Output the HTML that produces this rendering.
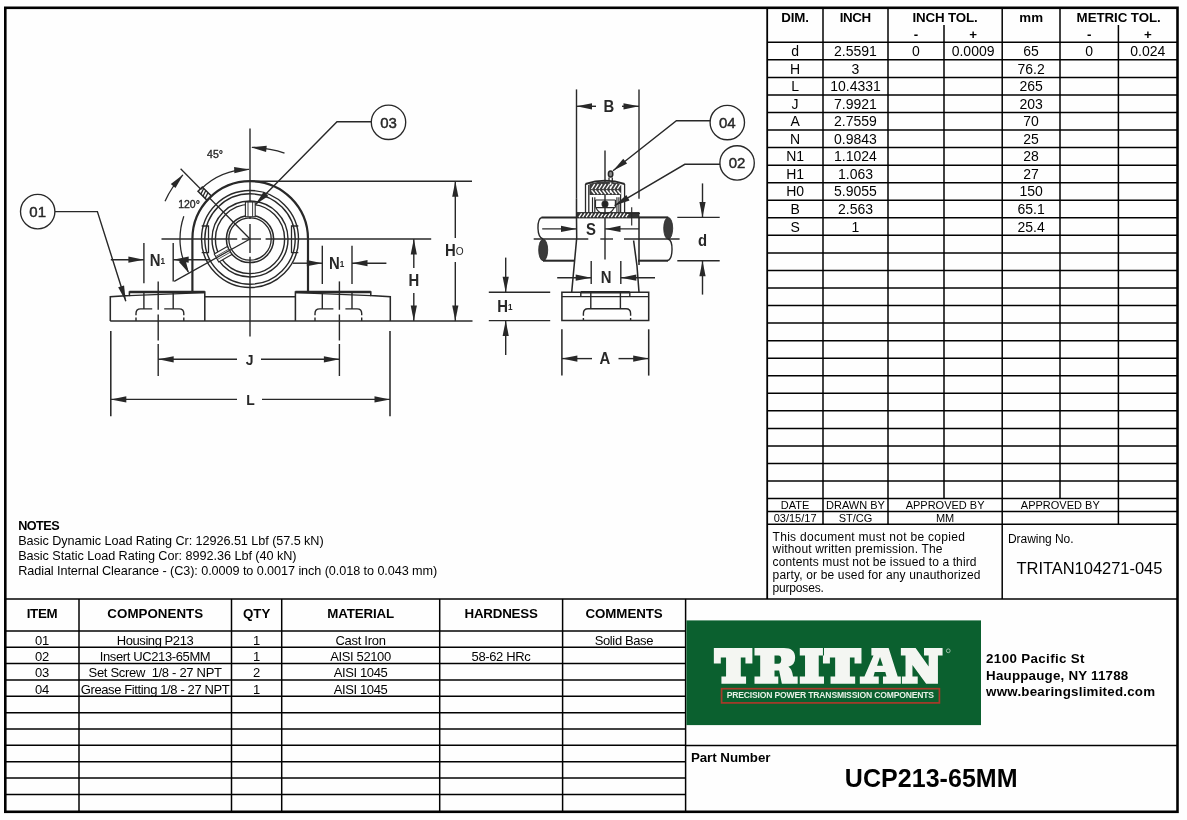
<!DOCTYPE html>
<html><head><meta charset="utf-8"><title>UCP213-65MM</title>
<style>
html,body{margin:0;padding:0;background:#fff;}
#pg{position:relative;width:1187px;height:820px;overflow:hidden;background:#fefefe;font-family:"Liberation Sans",sans-serif;}
#pg svg{position:absolute;left:0;top:0;opacity:0.999;will-change:opacity;}
#pg svg text{font-family:"Liberation Sans",sans-serif;}
.t{position:absolute;white-space:pre;line-height:1;margin:0;padding:0;}
#tx{position:absolute;left:0;top:0;width:1187px;height:820px;opacity:0.999;will-change:opacity;}
</style></head><body>
<div id="pg">
<svg width="1187" height="820" viewBox="0 0 1187 820" stroke-linecap="butt">
<rect x="5.30" y="7.80" width="1172.20" height="804.00" stroke="#000" stroke-width="2.6" fill="none"/>
<line x1="767.20" y1="7.80" x2="767.20" y2="598.90" stroke="#000" stroke-width="1.8" />
<line x1="823.00" y1="7.80" x2="823.00" y2="524.30" stroke="#000" stroke-width="1.5" />
<line x1="888.00" y1="7.80" x2="888.00" y2="524.30" stroke="#000" stroke-width="1.5" />
<line x1="944.00" y1="25.00" x2="944.00" y2="498.60" stroke="#000" stroke-width="1.5" />
<line x1="1002.20" y1="7.80" x2="1002.20" y2="598.90" stroke="#000" stroke-width="1.5" />
<line x1="1060.00" y1="7.80" x2="1060.00" y2="498.60" stroke="#000" stroke-width="1.5" />
<line x1="1118.40" y1="25.00" x2="1118.40" y2="524.30" stroke="#000" stroke-width="1.5" />
<line x1="767.20" y1="42.30" x2="1177.30" y2="42.30" stroke="#000" stroke-width="1.5" />
<line x1="767.20" y1="59.85" x2="1177.30" y2="59.85" stroke="#000" stroke-width="1.5" />
<line x1="767.20" y1="77.40" x2="1177.30" y2="77.40" stroke="#000" stroke-width="1.5" />
<line x1="767.20" y1="94.95" x2="1177.30" y2="94.95" stroke="#000" stroke-width="1.5" />
<line x1="767.20" y1="112.50" x2="1177.30" y2="112.50" stroke="#000" stroke-width="1.5" />
<line x1="767.20" y1="130.05" x2="1177.30" y2="130.05" stroke="#000" stroke-width="1.5" />
<line x1="767.20" y1="147.60" x2="1177.30" y2="147.60" stroke="#000" stroke-width="1.5" />
<line x1="767.20" y1="165.15" x2="1177.30" y2="165.15" stroke="#000" stroke-width="1.5" />
<line x1="767.20" y1="182.70" x2="1177.30" y2="182.70" stroke="#000" stroke-width="1.5" />
<line x1="767.20" y1="200.25" x2="1177.30" y2="200.25" stroke="#000" stroke-width="1.5" />
<line x1="767.20" y1="217.80" x2="1177.30" y2="217.80" stroke="#000" stroke-width="1.5" />
<line x1="767.20" y1="235.35" x2="1177.30" y2="235.35" stroke="#000" stroke-width="1.5" />
<line x1="767.20" y1="252.90" x2="1177.30" y2="252.90" stroke="#000" stroke-width="1.5" />
<line x1="767.20" y1="270.45" x2="1177.30" y2="270.45" stroke="#000" stroke-width="1.5" />
<line x1="767.20" y1="288.00" x2="1177.30" y2="288.00" stroke="#000" stroke-width="1.5" />
<line x1="767.20" y1="305.55" x2="1177.30" y2="305.55" stroke="#000" stroke-width="1.5" />
<line x1="767.20" y1="323.10" x2="1177.30" y2="323.10" stroke="#000" stroke-width="1.5" />
<line x1="767.20" y1="340.65" x2="1177.30" y2="340.65" stroke="#000" stroke-width="1.5" />
<line x1="767.20" y1="358.20" x2="1177.30" y2="358.20" stroke="#000" stroke-width="1.5" />
<line x1="767.20" y1="375.75" x2="1177.30" y2="375.75" stroke="#000" stroke-width="1.5" />
<line x1="767.20" y1="393.30" x2="1177.30" y2="393.30" stroke="#000" stroke-width="1.5" />
<line x1="767.20" y1="410.85" x2="1177.30" y2="410.85" stroke="#000" stroke-width="1.5" />
<line x1="767.20" y1="428.40" x2="1177.30" y2="428.40" stroke="#000" stroke-width="1.5" />
<line x1="767.20" y1="445.95" x2="1177.30" y2="445.95" stroke="#000" stroke-width="1.5" />
<line x1="767.20" y1="463.50" x2="1177.30" y2="463.50" stroke="#000" stroke-width="1.5" />
<line x1="767.20" y1="481.05" x2="1177.30" y2="481.05" stroke="#000" stroke-width="1.5" />
<line x1="767.20" y1="498.60" x2="1177.30" y2="498.60" stroke="#000" stroke-width="1.5" />
<line x1="767.20" y1="511.60" x2="1177.30" y2="511.60" stroke="#000" stroke-width="1.5" />
<line x1="767.20" y1="524.30" x2="1177.30" y2="524.30" stroke="#000" stroke-width="1.5" />
<line x1="5.30" y1="598.90" x2="1177.30" y2="598.90" stroke="#000" stroke-width="1.5" />
<line x1="79.00" y1="598.90" x2="79.00" y2="811.80" stroke="#000" stroke-width="1.5" />
<line x1="231.50" y1="598.90" x2="231.50" y2="811.80" stroke="#000" stroke-width="1.5" />
<line x1="281.70" y1="598.90" x2="281.70" y2="811.80" stroke="#000" stroke-width="1.5" />
<line x1="439.70" y1="598.90" x2="439.70" y2="811.80" stroke="#000" stroke-width="1.5" />
<line x1="562.60" y1="598.90" x2="562.60" y2="811.80" stroke="#000" stroke-width="1.5" />
<line x1="685.60" y1="598.90" x2="685.60" y2="811.80" stroke="#000" stroke-width="1.5" />
<line x1="5.30" y1="630.90" x2="685.60" y2="630.90" stroke="#000" stroke-width="1.5" />
<line x1="5.30" y1="647.25" x2="685.60" y2="647.25" stroke="#000" stroke-width="1.5" />
<line x1="5.30" y1="663.60" x2="685.60" y2="663.60" stroke="#000" stroke-width="1.5" />
<line x1="5.30" y1="679.95" x2="685.60" y2="679.95" stroke="#000" stroke-width="1.5" />
<line x1="5.30" y1="696.30" x2="685.60" y2="696.30" stroke="#000" stroke-width="1.5" />
<line x1="5.30" y1="712.65" x2="685.60" y2="712.65" stroke="#000" stroke-width="1.5" />
<line x1="5.30" y1="729.00" x2="685.60" y2="729.00" stroke="#000" stroke-width="1.5" />
<line x1="5.30" y1="745.35" x2="685.60" y2="745.35" stroke="#000" stroke-width="1.5" />
<line x1="5.30" y1="761.70" x2="685.60" y2="761.70" stroke="#000" stroke-width="1.5" />
<line x1="5.30" y1="778.05" x2="685.60" y2="778.05" stroke="#000" stroke-width="1.5" />
<line x1="5.30" y1="794.40" x2="685.60" y2="794.40" stroke="#000" stroke-width="1.5" />
<line x1="685.60" y1="745.60" x2="1177.30" y2="745.60" stroke="#000" stroke-width="1.5" />
<rect x="686.4" y="620.4" width="294.6" height="104.7" fill="#0b602f"/>
<g transform="translate(705,635) scale(0.21061)"><path d="M42,62 H225 V135 H192 V107 H170 V197 H195 V232 H78 V197 H100 V107 H75 V135 H42 Z M235,62 H375 Q428,62 428,108 Q428,142 396,151 Q412,158 418,197 H440 V232 H365 L352,168 H330 V197 H348 V232 H235 V197 H262 V97 H235 Z M330,97 V136 H348 Q362,136 362,116 Q362,97 348,97 Z M450,62 H565 V97 H540 V197 H565 V232 H450 V197 H475 V97 H450 Z M560,62 H743 V135 H710 V107 H688 V197 H713 V232 H596 V197 H618 V107 H593 V135 H560 Z M790,62 H872 L915,197 H935 V232 H845 V197 H862 L856,176 H806 L800,197 H825 V232 H735 V197 H757 L800,97 H790 Z M831,104 L817,146 H845 Z M930,62 H1000 L1062,150 V97 H1040 V62 H1128 V97 H1106 V232 H1050 L985,142 V197 H1010 V232 H930 V197 H952 V97 H930 Z" fill="#f4f6f2" fill-rule="evenodd"/><circle cx="1155" cy="75" r="9" fill="none" stroke="#dfe8df" stroke-width="3"/></g>
<rect x="721.6" y="688.7" width="217.8" height="14.2" fill="none" stroke="#a83a2a" stroke-width="1.7"/>
<path d="M192.4,292 V239.0 A57.8,57.8 0 0 1 308,239.0 V292" stroke="#282828" stroke-width="2.18" fill="none" />
<circle cx="250.00" cy="239.00" r="48.50" stroke="#282828" stroke-width="1.41" fill="none"/>
<circle cx="250.00" cy="239.00" r="45.20" stroke="#282828" stroke-width="1.41" fill="none"/>
<circle cx="250.00" cy="239.00" r="38.00" stroke="#282828" stroke-width="1.41" fill="none"/>
<circle cx="250.00" cy="239.00" r="34.60" stroke="#282828" stroke-width="1.41" fill="none"/>
<circle cx="250.00" cy="239.00" r="23.60" stroke="#282828" stroke-width="1.54" fill="none"/>
<circle cx="250.00" cy="239.00" r="21.20" stroke="#282828" stroke-width="1.28" fill="none"/>
<line x1="250.00" y1="128.50" x2="250.00" y2="218.90" stroke="#282828" stroke-width="1.41" />
<line x1="250.00" y1="224.00" x2="250.00" y2="253.00" stroke="#282828" stroke-width="1.41" />
<line x1="250.00" y1="256.70" x2="250.00" y2="336.50" stroke="#282828" stroke-width="1.41" />
<line x1="161.50" y1="239.00" x2="237.20" y2="239.00" stroke="#282828" stroke-width="1.41" />
<line x1="241.80" y1="239.00" x2="261.00" y2="239.00" stroke="#282828" stroke-width="1.41" />
<line x1="265.60" y1="239.00" x2="431.20" y2="239.00" stroke="#282828" stroke-width="1.41" />
<rect x="245.4" y="202" width="9.8" height="14.8" fill="#fff" stroke="#282828" stroke-width="1.1"/>
<line x1="248.00" y1="202.00" x2="248.00" y2="216.50" stroke="#282828" stroke-width="0.9" />
<line x1="252.60" y1="202.00" x2="252.60" y2="216.50" stroke="#282828" stroke-width="0.9" />
<g transform="translate(250.0,239.0) rotate(-29.5)"><rect x="-38.5" y="-4.6" width="15" height="9.2" fill="#fff" stroke="#282828" stroke-width="1.1"/><line x1="-38.5" y1="-1.6" x2="-23.5" y2="-1.6" stroke="#282828" stroke-width="0.7"/><line x1="-38.5" y1="1.8" x2="-23.5" y2="1.8" stroke="#282828" stroke-width="0.7"/></g>
<line x1="250.00" y1="239.00" x2="174.20" y2="281.40" stroke="#282828" stroke-width="1.28" />
<line x1="250.00" y1="239.00" x2="180.60" y2="168.80" stroke="#282828" stroke-width="1.28" />
<g transform="translate(250.0,239.0) rotate(45)"><rect x="-70.5" y="-3" width="12.5" height="6" fill="#fff" stroke="#282828" stroke-width="1.5"/><path d="M-68.5,-3 L-66.5,3 M-65.5,-3 L-63.5,3 M-62.5,-3 L-60.5,3" stroke="#282828" stroke-width="1.3"/></g>
<path d="M201.7,226 H208.5 V252.6 H201.7" stroke="#282828" stroke-width="1.28" fill="none" />
<path d="M298.3,226 H291.5 V252.6 H298.3" stroke="#282828" stroke-width="1.28" fill="none" />
<path d="M200.50,189.50 A70,70 0 0 1 249.0,169.4" stroke="#282828" stroke-width="1.28" fill="none" />
<polygon points="249.70,169.40 234.38,173.31 234.06,167.12" fill="#282828"/>
<path d="M252,147.3 Q270,148 284.5,153.2" stroke="#282828" stroke-width="1.28" fill="none" />
<polygon points="251.00,147.30 266.74,145.84 266.09,152.00" fill="#282828"/>
<path d="M165.04,201.17 A93,93 0 0 1 182.91,174.89" stroke="#282828" stroke-width="1.28" fill="none" />
<polygon points="183.31,174.39 175.48,188.12 170.80,184.05" fill="#282828"/>
<path d="M183.81,216.21 A70,70 0 0 0 188.19,271.86" stroke="#282828" stroke-width="1.28" fill="none" />
<polygon points="188.99,273.36 178.77,261.81 185.13,258.43" fill="#282828"/>
<text x="215" y="158.2" font-size="10.5" text-anchor="middle" fill="#282828" stroke="#282828" stroke-width="0.35">45°</text>
<text x="189" y="208.2" font-size="10.5" text-anchor="middle" fill="#282828" stroke="#282828" stroke-width="0.35">120°</text>
<line x1="110.20" y1="321.10" x2="472.50" y2="321.10" stroke="#282828" stroke-width="1.54" />
<path d="M110.3,321 V296.8 L129.4,295.6 V292 H204.8 V321" stroke="#282828" stroke-width="1.54" fill="none" />
<line x1="129.40" y1="292.00" x2="204.80" y2="292.00" stroke="#282828" stroke-width="2.56" />
<line x1="129.40" y1="295.60" x2="204.80" y2="292.60" stroke="#282828" stroke-width="1.15" />
<path d="M390.3,321 V296.8 L370.8,295.6 V292 H295.4 V321" stroke="#282828" stroke-width="1.54" fill="none" />
<line x1="295.40" y1="292.00" x2="370.80" y2="292.00" stroke="#282828" stroke-width="2.56" />
<line x1="370.80" y1="295.60" x2="295.40" y2="292.60" stroke="#282828" stroke-width="1.15" />
<line x1="204.80" y1="296.70" x2="295.40" y2="296.70" stroke="#282828" stroke-width="1.41" />
<line x1="143.90" y1="292.00" x2="143.90" y2="308.90" stroke="#282828" stroke-width="1.41" />
<line x1="173.20" y1="292.00" x2="173.20" y2="308.90" stroke="#282828" stroke-width="1.41" />
<path d="M136,321 V317.5 M136,315.3 V313.5 Q136,308.9 140.6,308.9 H152.2 M164.2,308.9 H179.20000000000002 Q183.8,308.9 183.8,313.5 V315.3 M183.8,317.5 V321" stroke="#282828" stroke-width="1.41" fill="none" />
<line x1="158.20" y1="281.40" x2="158.20" y2="309.80" stroke="#282828" stroke-width="1.41" />
<line x1="158.20" y1="314.50" x2="158.20" y2="340.50" stroke="#282828" stroke-width="1.41" />
<line x1="158.20" y1="344.00" x2="158.20" y2="376.00" stroke="#282828" stroke-width="1.41" />
<line x1="322.30" y1="292.00" x2="322.30" y2="308.90" stroke="#282828" stroke-width="1.41" />
<line x1="352.00" y1="292.00" x2="352.00" y2="308.90" stroke="#282828" stroke-width="1.41" />
<path d="M315,321 V317.5 M315,315.3 V313.5 Q315,308.9 319.6,308.9 H333.4 M345.4,308.9 H357.09999999999997 Q361.7,308.9 361.7,313.5 V315.3 M361.7,317.5 V321" stroke="#282828" stroke-width="1.41" fill="none" />
<line x1="339.40" y1="281.40" x2="339.40" y2="309.80" stroke="#282828" stroke-width="1.41" />
<line x1="339.40" y1="314.50" x2="339.40" y2="340.50" stroke="#282828" stroke-width="1.41" />
<line x1="339.40" y1="344.00" x2="339.40" y2="376.00" stroke="#282828" stroke-width="1.41" />
<line x1="143.90" y1="243.00" x2="143.90" y2="283.30" stroke="#282828" stroke-width="1.41" />
<line x1="173.20" y1="243.00" x2="173.20" y2="281.40" stroke="#282828" stroke-width="1.41" />
<line x1="110.80" y1="259.70" x2="143.90" y2="259.70" stroke="#282828" stroke-width="1.41" />
<polygon points="143.90,259.70 128.40,262.80 128.40,256.60" fill="#282828"/>
<line x1="173.20" y1="259.70" x2="210.00" y2="259.70" stroke="#282828" stroke-width="1.41" />
<polygon points="173.20,259.70 188.70,256.60 188.70,262.80" fill="#282828"/>
<line x1="322.30" y1="245.70" x2="322.30" y2="284.00" stroke="#282828" stroke-width="1.41" />
<line x1="352.00" y1="245.70" x2="352.00" y2="284.00" stroke="#282828" stroke-width="1.41" />
<line x1="293.00" y1="263.20" x2="322.30" y2="263.20" stroke="#282828" stroke-width="1.41" />
<polygon points="322.30,263.20 306.80,266.30 306.80,260.10" fill="#282828"/>
<line x1="352.00" y1="263.20" x2="386.40" y2="263.20" stroke="#282828" stroke-width="1.41" />
<polygon points="352.00,263.20 367.50,260.10 367.50,266.30" fill="#282828"/>
<text transform="translate(157.3,266) scale(0.93,1)" font-size="16" font-weight="700" text-anchor="middle" fill="#282828">N<tspan font-size="8.8" dy="-2.2">1</tspan></text>
<text transform="translate(336.6,269.3) scale(0.93,1)" font-size="16" font-weight="700" text-anchor="middle" fill="#282828">N<tspan font-size="8.8" dy="-2.2">1</tspan></text>
<line x1="413.80" y1="239.00" x2="413.80" y2="268.00" stroke="#282828" stroke-width="1.41" />
<line x1="413.80" y1="293.00" x2="413.80" y2="321.10" stroke="#282828" stroke-width="1.41" />
<polygon points="413.80,239.00 416.90,254.50 410.70,254.50" fill="#282828"/>
<polygon points="413.80,321.10 410.70,305.60 416.90,305.60" fill="#282828"/>
<text transform="translate(413.8,286) scale(0.93,1)" font-size="16" font-weight="700" text-anchor="middle" fill="#282828">H</text>
<line x1="252.00" y1="181.20" x2="472.00" y2="181.20" stroke="#282828" stroke-width="1.41" />
<line x1="455.30" y1="181.20" x2="455.30" y2="238.00" stroke="#282828" stroke-width="1.41" />
<line x1="455.30" y1="262.00" x2="455.30" y2="321.10" stroke="#282828" stroke-width="1.41" />
<polygon points="455.30,181.20 458.40,196.70 452.20,196.70" fill="#282828"/>
<polygon points="455.30,321.10 452.20,305.60 458.40,305.60" fill="#282828"/>
<text transform="translate(454.3,256) scale(0.93,1)" font-size="16" font-weight="700" text-anchor="middle" fill="#282828">H<tspan font-size="10.9" dy="-1.4"><tspan font-weight="400">O</tspan></tspan></text>
<line x1="158.20" y1="359.30" x2="237.00" y2="359.30" stroke="#282828" stroke-width="1.41" />
<line x1="261.00" y1="359.30" x2="339.40" y2="359.30" stroke="#282828" stroke-width="1.41" />
<polygon points="158.20,359.30 173.70,356.20 173.70,362.40" fill="#282828"/>
<polygon points="339.40,359.30 323.90,362.40 323.90,356.20" fill="#282828"/>
<text transform="translate(249.5,364.5) scale(0.93,1)" font-size="15" font-weight="700" text-anchor="middle" fill="#282828">J</text>
<line x1="110.80" y1="331.00" x2="110.80" y2="416.30" stroke="#282828" stroke-width="1.54" />
<line x1="390.00" y1="331.00" x2="390.00" y2="416.30" stroke="#282828" stroke-width="1.54" />
<line x1="110.80" y1="399.40" x2="237.00" y2="399.40" stroke="#282828" stroke-width="1.41" />
<line x1="262.00" y1="399.40" x2="390.00" y2="399.40" stroke="#282828" stroke-width="1.41" />
<polygon points="110.80,399.40 126.30,396.30 126.30,402.50" fill="#282828"/>
<polygon points="390.00,399.40 374.50,402.50 374.50,396.30" fill="#282828"/>
<text transform="translate(250.5,404.8) scale(0.93,1)" font-size="15" font-weight="700" text-anchor="middle" fill="#282828">L</text>
<path d="M54.8,211.6 H97.4 L125.8,301.2" stroke="#282828" stroke-width="1.41" fill="none" />
<polygon points="125.80,301.20 118.16,287.36 124.07,285.49" fill="#282828"/>
<circle cx="37.7" cy="211.6" r="17.2" fill="#fff" stroke="#282828" stroke-width="1.35"/>
<text x="37.7" y="217.1" font-size="15" text-anchor="middle" fill="#282828" stroke="#282828" stroke-width="0.45">01</text>
<path d="M371,121.8 H337 L255.5,204.5" stroke="#282828" stroke-width="1.41" fill="none" />
<polygon points="255.20,204.80 263.85,191.57 268.28,195.92" fill="#282828"/>
<circle cx="388.5" cy="122.3" r="17.2" fill="#fff" stroke="#282828" stroke-width="1.35"/>
<text x="388.5" y="127.8" font-size="15" text-anchor="middle" fill="#282828" stroke="#282828" stroke-width="0.45">03</text>
<path d="M710,120.8 H676.4 L613,170.7" stroke="#282828" stroke-width="1.41" fill="none" />
<polygon points="613.00,170.70 623.26,158.68 627.10,163.55" fill="#282828"/>
<circle cx="727.3" cy="122.5" r="17.2" fill="#fff" stroke="#282828" stroke-width="1.35"/>
<text x="727.3" y="128.0" font-size="15" text-anchor="middle" fill="#282828" stroke="#282828" stroke-width="0.45">04</text>
<path d="M720,164.3 H684.8 L614.6,205.6" stroke="#282828" stroke-width="1.41" fill="none" />
<polygon points="614.60,205.60 626.38,195.06 629.53,200.40" fill="#282828"/>
<circle cx="737.1" cy="162.9" r="17.2" fill="#fff" stroke="#282828" stroke-width="1.35"/>
<text x="737.1" y="168.4" font-size="15" text-anchor="middle" fill="#282828" stroke="#282828" stroke-width="0.45">02</text>
<line x1="605.00" y1="150.50" x2="605.00" y2="259.50" stroke="#282828" stroke-width="1.41" />
<line x1="576.50" y1="89.40" x2="576.50" y2="198.80" stroke="#282828" stroke-width="1.41" />
<line x1="639.00" y1="89.40" x2="639.00" y2="198.80" stroke="#282828" stroke-width="1.41" />
<line x1="576.50" y1="106.30" x2="596.00" y2="106.30" stroke="#282828" stroke-width="1.41" />
<line x1="622.00" y1="106.30" x2="639.00" y2="106.30" stroke="#282828" stroke-width="1.41" />
<polygon points="576.50,106.30 592.00,103.20 592.00,109.40" fill="#282828"/>
<polygon points="639.00,106.30 623.50,109.40 623.50,103.20" fill="#282828"/>
<text transform="translate(608.8,112) scale(0.93,1)" font-size="16" font-weight="700" text-anchor="middle" fill="#282828">B</text>
<line x1="541.50" y1="217.40" x2="576.50" y2="217.40" stroke="#282828" stroke-width="2.05" />
<line x1="639.00" y1="217.40" x2="668.20" y2="217.40" stroke="#282828" stroke-width="2.05" />
<line x1="543.00" y1="260.70" x2="574.30" y2="260.70" stroke="#282828" stroke-width="2.05" />
<line x1="638.00" y1="260.70" x2="668.00" y2="260.70" stroke="#282828" stroke-width="2.05" />
<path d="M541.8,217.4 C536.5,219.4 536.5,237.0 543,239.0" stroke="#282828" stroke-width="1.41" fill="none" />
<ellipse cx="543.2" cy="250" rx="4.5" ry="10.8" fill="#3a3a3a" stroke="#282828" stroke-width="0.8"/>
<ellipse cx="668.2" cy="228.3" rx="4.5" ry="10.9" fill="#3a3a3a" stroke="#282828" stroke-width="0.8"/>
<path d="M668.2,239.0 C673.4,241.0 673.4,258.7 667.5,260.7" stroke="#282828" stroke-width="1.41" fill="none" />
<line x1="533.70" y1="239.00" x2="588.30" y2="239.00" stroke="#282828" stroke-width="1.41" />
<line x1="600.30" y1="239.00" x2="613.00" y2="239.00" stroke="#282828" stroke-width="1.41" />
<line x1="624.00" y1="239.00" x2="679.60" y2="239.00" stroke="#282828" stroke-width="1.41" />
<rect x="576.5" y="212.4" width="62.5" height="5.6" fill="#333" stroke="#282828" stroke-width="0.8"/>
<path d="M579.0,217.2 L581.6,213.4 M582.6,217.2 L585.2,213.4 M586.2,217.2 L588.8,213.4 M589.8,217.2 L592.4,213.4 M593.4,217.2 L596.0,213.4 M597.0,217.2 L599.6,213.4 M600.6,217.2 L603.2,213.4 M604.2,217.2 L606.8,213.4 M607.8,217.2 L610.4,213.4 M611.4,217.2 L614.0,213.4 M615.0,217.2 L617.6,213.4 M618.6,217.2 L621.2,213.4 M622.2,217.2 L624.8,213.4 M625.8,217.2 L628.4,213.4 " stroke="#fff" stroke-width="1.3"/>
<path d="M585.5,184 Q605,177.2 624.6,184" stroke="#282828" stroke-width="1.92" fill="none" />
<path d="M585.5,184 V212.4 M588.8,185 V212.4 M624.6,184 V212.4 M620.6,185 V212.4" stroke="#282828" stroke-width="1.28" fill="none" />
<path d="M589.5,183.8 Q605,179 620.5,183.8 V195 H589.5 Z" fill="#3c3c3c"/>
<path d="M591.5,189 L594.7,184.2 M591.5,190.2 L594.7,194 M595.2,189 L598.4,184.2 M595.2,190.2 L598.4,194 M598.9,189 L602.1,184.2 M598.9,190.2 L602.1,194 M602.6,189 L605.8,184.2 M602.6,190.2 L605.8,194 M606.3,189 L609.5,184.2 M606.3,190.2 L609.5,194 M610.0,189 L613.2,184.2 M610.0,190.2 L613.2,194 M613.7,189 L616.9,184.2 M613.7,190.2 L616.9,194 M617.4,189 L620.6,184.2 M617.4,190.2 L620.6,194 " stroke="#fff" stroke-width="1.35"/>
<path d="M592.5,197.3 V212.4 M594.8,197.3 V212.4 M616.9,197.3 V212.4 M618.9,197.3 V212.4" stroke="#282828" stroke-width="1.15" fill="none" />
<path d="M595.5,200 H615.4 M595.5,207.6 H615.4 M595.5,200 V207.6 M615.4,200 V207.6" stroke="#282828" stroke-width="1.15" fill="none" />
<path d="M596,208 A10,10 0 0 0 614,208" stroke="#282828" stroke-width="1.15" fill="none" />
<circle cx="605.00" cy="204.00" r="3.00" stroke="#282828" stroke-width="1.02" fill="#222"/>
<ellipse cx="610.6" cy="174.1" rx="2.2" ry="3.0" fill="#8a8a8a" stroke="#282828" stroke-width="1.5"/>
<path d="M609,177.5 V181 M612.3,177.5 V181" stroke="#282828" stroke-width="1.28" fill="none" />
<path d="M610.6,182.5 V193.5" stroke="#fff" stroke-width="1.5" stroke-dasharray="2.2 1.8"/>
<line x1="631.70" y1="207.30" x2="631.70" y2="225.50" stroke="#282828" stroke-width="1.15" />
<line x1="625.50" y1="213.40" x2="640.00" y2="213.40" stroke="#282828" stroke-width="1.15" />
<path d="M576.5,198.8 V217.4 M576.5,217.4 L576.7,238 L571.7,292.3" stroke="#282828" stroke-width="1.54" fill="none" />
<path d="M639,217.4 V265 M633.6,240.5 L637,266 L639,292.3" stroke="#282828" stroke-width="1.54" fill="none" />
<line x1="542.20" y1="228.90" x2="576.50" y2="228.90" stroke="#282828" stroke-width="1.41" />
<polygon points="576.50,228.90 561.00,232.00 561.00,225.80" fill="#282828"/>
<line x1="605.00" y1="228.90" x2="639.00" y2="228.90" stroke="#282828" stroke-width="1.41" />
<polygon points="605.00,228.90 620.50,225.80 620.50,232.00" fill="#282828"/>
<text transform="translate(590.9,234.5) scale(0.93,1)" font-size="16" font-weight="700" text-anchor="middle" fill="#282828">S</text>
<line x1="591.20" y1="261.00" x2="591.20" y2="284.00" stroke="#282828" stroke-width="1.41" />
<line x1="620.80" y1="261.00" x2="620.80" y2="284.00" stroke="#282828" stroke-width="1.41" />
<line x1="557.20" y1="277.70" x2="591.20" y2="277.70" stroke="#282828" stroke-width="1.41" />
<polygon points="591.20,277.70 575.70,280.80 575.70,274.60" fill="#282828"/>
<line x1="620.80" y1="277.70" x2="655.00" y2="277.70" stroke="#282828" stroke-width="1.41" />
<polygon points="620.80,277.70 636.30,274.60 636.30,280.80" fill="#282828"/>
<text transform="translate(606,283.3) scale(0.93,1)" font-size="16" font-weight="700" text-anchor="middle" fill="#282828">N</text>
<path d="M561.9,320.6 V292.3 H648.7 V320.6 Z" stroke="#282828" stroke-width="1.54" fill="none" />
<line x1="561.90" y1="296.60" x2="648.70" y2="296.60" stroke="#282828" stroke-width="1.28" />
<line x1="580.80" y1="292.30" x2="629.80" y2="292.30" stroke="#282828" stroke-width="2.56" />
<line x1="580.80" y1="292.30" x2="580.80" y2="296.60" stroke="#282828" stroke-width="1.41" />
<line x1="629.80" y1="292.30" x2="629.80" y2="296.60" stroke="#282828" stroke-width="1.41" />
<line x1="590.80" y1="292.30" x2="590.80" y2="308.70" stroke="#282828" stroke-width="1.41" />
<line x1="620.40" y1="292.30" x2="620.40" y2="308.70" stroke="#282828" stroke-width="1.41" />
<path d="M583.4,320.6 V318 M583.4,315.8 V313.5 Q583.4,308.7 588,308.7 H626 Q630.6,308.7 630.6,313.5 V315.8 M630.6,318 V320.6" stroke="#282828" stroke-width="1.41" fill="none" />
<line x1="488.80" y1="292.30" x2="550.20" y2="292.30" stroke="#282828" stroke-width="1.41" />
<line x1="488.80" y1="320.60" x2="550.20" y2="320.60" stroke="#282828" stroke-width="1.41" />
<line x1="505.70" y1="257.60" x2="505.70" y2="292.30" stroke="#282828" stroke-width="1.41" />
<polygon points="505.70,292.30 502.60,276.80 508.80,276.80" fill="#282828"/>
<line x1="505.70" y1="320.60" x2="505.70" y2="355.00" stroke="#282828" stroke-width="1.41" />
<polygon points="505.70,320.60 508.80,336.10 502.60,336.10" fill="#282828"/>
<text transform="translate(504.8,312) scale(0.93,1)" font-size="16" font-weight="700" text-anchor="middle" fill="#282828">H<tspan font-size="8.8" dy="-2.2">1</tspan></text>
<line x1="561.90" y1="329.30" x2="561.90" y2="375.60" stroke="#282828" stroke-width="1.54" />
<line x1="648.70" y1="329.30" x2="648.70" y2="375.60" stroke="#282828" stroke-width="1.54" />
<line x1="561.90" y1="358.60" x2="592.00" y2="358.60" stroke="#282828" stroke-width="1.41" />
<line x1="618.50" y1="358.60" x2="648.70" y2="358.60" stroke="#282828" stroke-width="1.41" />
<polygon points="561.90,358.60 577.40,355.50 577.40,361.70" fill="#282828"/>
<polygon points="648.70,358.60 633.20,361.70 633.20,355.50" fill="#282828"/>
<text transform="translate(604.8,364.3) scale(0.93,1)" font-size="16" font-weight="700" text-anchor="middle" fill="#282828">A</text>
<line x1="677.30" y1="217.40" x2="719.70" y2="217.40" stroke="#282828" stroke-width="1.41" />
<line x1="677.30" y1="260.70" x2="719.70" y2="260.70" stroke="#282828" stroke-width="1.41" />
<line x1="702.50" y1="183.40" x2="702.50" y2="217.40" stroke="#282828" stroke-width="1.41" />
<polygon points="702.50,217.40 699.40,201.90 705.60,201.90" fill="#282828"/>
<line x1="702.50" y1="260.70" x2="702.50" y2="294.60" stroke="#282828" stroke-width="1.41" />
<polygon points="702.50,260.70 705.60,276.20 699.40,276.20" fill="#282828"/>
<text transform="translate(702.5,245.5) scale(0.93,1)" font-size="16" font-weight="700" text-anchor="middle" fill="#282828">d</text>
</svg>
<div id="tx">
<div class="t" style="left:781.31px;top:11px;font-size:13.33px;font-weight:700;letter-spacing:-0.185px;">DIM.</div>
<div class="t" style="left:839.84px;top:11px;font-size:13.33px;font-weight:700;letter-spacing:-0.423px;">INCH</div>
<div class="t" style="left:912.52px;top:11px;font-size:13.33px;font-weight:700;letter-spacing:-0.156px;">INCH TOL.</div>
<div class="t" style="left:1019.15px;top:11px;font-size:13.33px;font-weight:700;letter-spacing:0.198px;">mm</div>
<div class="t" style="left:1076.61px;top:11px;font-size:13.33px;font-weight:700;letter-spacing:-0.082px;">METRIC TOL.</div>
<div class="t" style="left:913.77px;top:28px;font-size:13.33px;font-weight:700;">-</div>
<div class="t" style="left:969.20px;top:28px;font-size:13.33px;font-weight:700;">+</div>
<div class="t" style="left:1086.97px;top:28px;font-size:13.33px;font-weight:700;">-</div>
<div class="t" style="left:1143.95px;top:28px;font-size:13.33px;font-weight:700;">+</div>
<div class="t" style="left:791.20px;top:44px;font-size:14px;">d</div>
<div class="t" style="left:834.09px;top:44px;font-size:14px;">2.5591</div>
<div class="t" style="left:912.10px;top:44px;font-size:14px;">0</div>
<div class="t" style="left:951.69px;top:44px;font-size:14px;">0.0009</div>
<div class="t" style="left:1023.31px;top:44px;font-size:14px;">65</div>
<div class="t" style="left:1085.30px;top:44px;font-size:14px;">0</div>
<div class="t" style="left:1130.33px;top:44px;font-size:14px;">0.024</div>
<div class="t" style="left:790.04px;top:62px;font-size:14px;">H</div>
<div class="t" style="left:851.60px;top:62px;font-size:14px;">3</div>
<div class="t" style="left:1017.47px;top:62px;font-size:14px;">76.2</div>
<div class="t" style="left:791.20px;top:79px;font-size:14px;">L</div>
<div class="t" style="left:830.20px;top:79px;font-size:14px;">10.4331</div>
<div class="t" style="left:1019.42px;top:79px;font-size:14px;">265</div>
<div class="t" style="left:791.60px;top:97px;font-size:14px;">J</div>
<div class="t" style="left:834.09px;top:97px;font-size:14px;">7.9921</div>
<div class="t" style="left:1019.42px;top:97px;font-size:14px;">203</div>
<div class="t" style="left:790.43px;top:114px;font-size:14px;">A</div>
<div class="t" style="left:834.09px;top:114px;font-size:14px;">2.7559</div>
<div class="t" style="left:1023.31px;top:114px;font-size:14px;">70</div>
<div class="t" style="left:790.04px;top:132px;font-size:14px;">N</div>
<div class="t" style="left:834.09px;top:132px;font-size:14px;">0.9843</div>
<div class="t" style="left:1023.31px;top:132px;font-size:14px;">25</div>
<div class="t" style="left:786.15px;top:149px;font-size:14px;">N1</div>
<div class="t" style="left:834.09px;top:149px;font-size:14px;">1.1024</div>
<div class="t" style="left:1023.31px;top:149px;font-size:14px;">28</div>
<div class="t" style="left:786.15px;top:167px;font-size:14px;">H1</div>
<div class="t" style="left:837.98px;top:167px;font-size:14px;">1.063</div>
<div class="t" style="left:1023.31px;top:167px;font-size:14px;">27</div>
<div class="t" style="left:786.15px;top:184px;font-size:14px;">H0</div>
<div class="t" style="left:834.09px;top:184px;font-size:14px;">5.9055</div>
<div class="t" style="left:1019.42px;top:184px;font-size:14px;">150</div>
<div class="t" style="left:790.43px;top:202px;font-size:14px;">B</div>
<div class="t" style="left:837.98px;top:202px;font-size:14px;">2.563</div>
<div class="t" style="left:1017.47px;top:202px;font-size:14px;">65.1</div>
<div class="t" style="left:790.43px;top:220px;font-size:14px;">S</div>
<div class="t" style="left:851.60px;top:220px;font-size:14px;">1</div>
<div class="t" style="left:1017.47px;top:220px;font-size:14px;">25.4</div>
<div class="t" style="left:780.83px;top:500px;font-size:11px;">DATE</div>
<div class="t" style="left:826.06px;top:500px;font-size:11px;">DRAWN BY</div>
<div class="t" style="left:905.67px;top:500px;font-size:11px;">APPROVED BY</div>
<div class="t" style="left:1020.87px;top:500px;font-size:11px;">APPROVED BY</div>
<div class="t" style="left:773.69px;top:513px;font-size:11px;">03/15/17</div>
<div class="t" style="left:838.69px;top:513px;font-size:11px;">ST/CG</div>
<div class="t" style="left:935.94px;top:513px;font-size:11px;">MM</div>
<div class="t" style="left:772.60px;top:531px;font-size:12px;letter-spacing:0.283px;">This document must not be copied</div>
<div class="t" style="left:772.60px;top:543px;font-size:12px;letter-spacing:0.155px;">without written premission. The</div>
<div class="t" style="left:772.60px;top:556px;font-size:12px;letter-spacing:0.120px;">contents must not be issued to a third</div>
<div class="t" style="left:772.60px;top:569px;font-size:12px;letter-spacing:0.160px;">party, or be used for any unauthorized</div>
<div class="t" style="left:772.60px;top:582px;font-size:12px;letter-spacing:-0.189px;">purposes.</div>
<div class="t" style="left:1008.00px;top:533px;font-size:12px;letter-spacing:-0.048px;">Drawing No.</div>
<div class="t" style="left:1016.50px;top:560px;font-size:16.5px;letter-spacing:-0.040px;">TRITAN104271-045</div>
<div class="t" style="left:26.69px;top:607px;font-size:13.33px;font-weight:700;letter-spacing:-0.311px;">ITEM</div>
<div class="t" style="left:107.36px;top:607px;font-size:13.33px;font-weight:700;letter-spacing:0.027px;">COMPONENTS</div>
<div class="t" style="left:242.90px;top:607px;font-size:13.33px;font-weight:700;letter-spacing:-0.002px;">QTY</div>
<div class="t" style="left:327.32px;top:607px;font-size:13.33px;font-weight:700;letter-spacing:-0.159px;">MATERIAL</div>
<div class="t" style="left:464.49px;top:607px;font-size:13.33px;font-weight:700;letter-spacing:-0.212px;">HARDNESS</div>
<div class="t" style="left:585.42px;top:607px;font-size:13.33px;font-weight:700;letter-spacing:-0.056px;">COMMENTS</div>
<div class="t" style="left:35.12px;top:634px;font-size:13px;letter-spacing:-0.400px;">01</div>
<div class="t" style="left:116.83px;top:634px;font-size:13px;letter-spacing:-0.439px;">Housing P213</div>
<div class="t" style="left:252.98px;top:634px;font-size:13px;letter-spacing:-0.400px;">1</div>
<div class="t" style="left:335.50px;top:634px;font-size:13px;letter-spacing:-0.294px;">Cast Iron</div>
<div class="t" style="left:594.71px;top:634px;font-size:13px;letter-spacing:-0.376px;">Solid Base</div>
<div class="t" style="left:35.12px;top:650px;font-size:13px;letter-spacing:-0.400px;">02</div>
<div class="t" style="left:99.81px;top:650px;font-size:13px;letter-spacing:-0.385px;">Insert UC213-65MM</div>
<div class="t" style="left:252.98px;top:650px;font-size:13px;letter-spacing:-0.400px;">1</div>
<div class="t" style="left:330.17px;top:650px;font-size:13px;letter-spacing:-0.363px;">AISI 52100</div>
<div class="t" style="left:471.61px;top:650px;font-size:13px;letter-spacing:-0.382px;">58-62 HRc</div>
<div class="t" style="left:35.12px;top:666px;font-size:13px;letter-spacing:-0.400px;">03</div>
<div class="t" style="left:88.55px;top:666px;font-size:13px;letter-spacing:-0.307px;">Set Screw  1/8 - 27 NPT</div>
<div class="t" style="left:252.98px;top:666px;font-size:13px;letter-spacing:-0.400px;">2</div>
<div class="t" style="left:333.66px;top:666px;font-size:13px;letter-spacing:-0.379px;">AISI 1045</div>
<div class="t" style="left:35.12px;top:683px;font-size:13px;letter-spacing:-0.400px;">04</div>
<div class="t" style="left:80.71px;top:683px;font-size:13px;letter-spacing:-0.380px;">Grease Fitting 1/8 - 27 NPT</div>
<div class="t" style="left:252.98px;top:683px;font-size:13px;letter-spacing:-0.400px;">1</div>
<div class="t" style="left:333.66px;top:683px;font-size:13px;letter-spacing:-0.379px;">AISI 1045</div>
<div class="t" style="left:18.30px;top:520px;font-size:12.67px;font-weight:700;letter-spacing:-0.582px;">NOTES</div>
<div class="t" style="left:18.20px;top:535px;font-size:12.67px;letter-spacing:-0.066px;">Basic Dynamic Load Rating Cr: 12926.51 Lbf (57.5 kN)</div>
<div class="t" style="left:18.20px;top:550px;font-size:12.67px;letter-spacing:-0.049px;">Basic Static Load Rating Cor: 8992.36 Lbf (40 kN)</div>
<div class="t" style="left:18.20px;top:565px;font-size:12.67px;letter-spacing:-0.079px;">Radial Internal Clearance - (C3): 0.0009 to 0.0017 inch (0.018 to 0.043 mm)</div>
<div class="t" style="left:986.10px;top:652px;font-size:13.33px;font-weight:700;letter-spacing:0.363px;">2100 Pacific St</div>
<div class="t" style="left:986.10px;top:669px;font-size:13.33px;font-weight:700;letter-spacing:0.212px;">Hauppauge, NY 11788</div>
<div class="t" style="left:986.10px;top:685px;font-size:13.33px;font-weight:700;letter-spacing:0.229px;">www.bearingslimited.com</div>
<div class="t" style="left:690.90px;top:751px;font-size:13.33px;font-weight:700;letter-spacing:-0.036px;">Part Number</div>
<div class="t" style="left:844.82px;top:766px;font-size:25px;font-weight:700;letter-spacing:0.047px;">UCP213-65MM</div>
<div class="t" style="left:726.70px;top:691px;font-size:8.6px;font-weight:700;letter-spacing:-0.184px;color:#e9f1e6;">PRECISION POWER TRANSMISSION COMPONENTS</div>
</div>
</div>
</body></html>
